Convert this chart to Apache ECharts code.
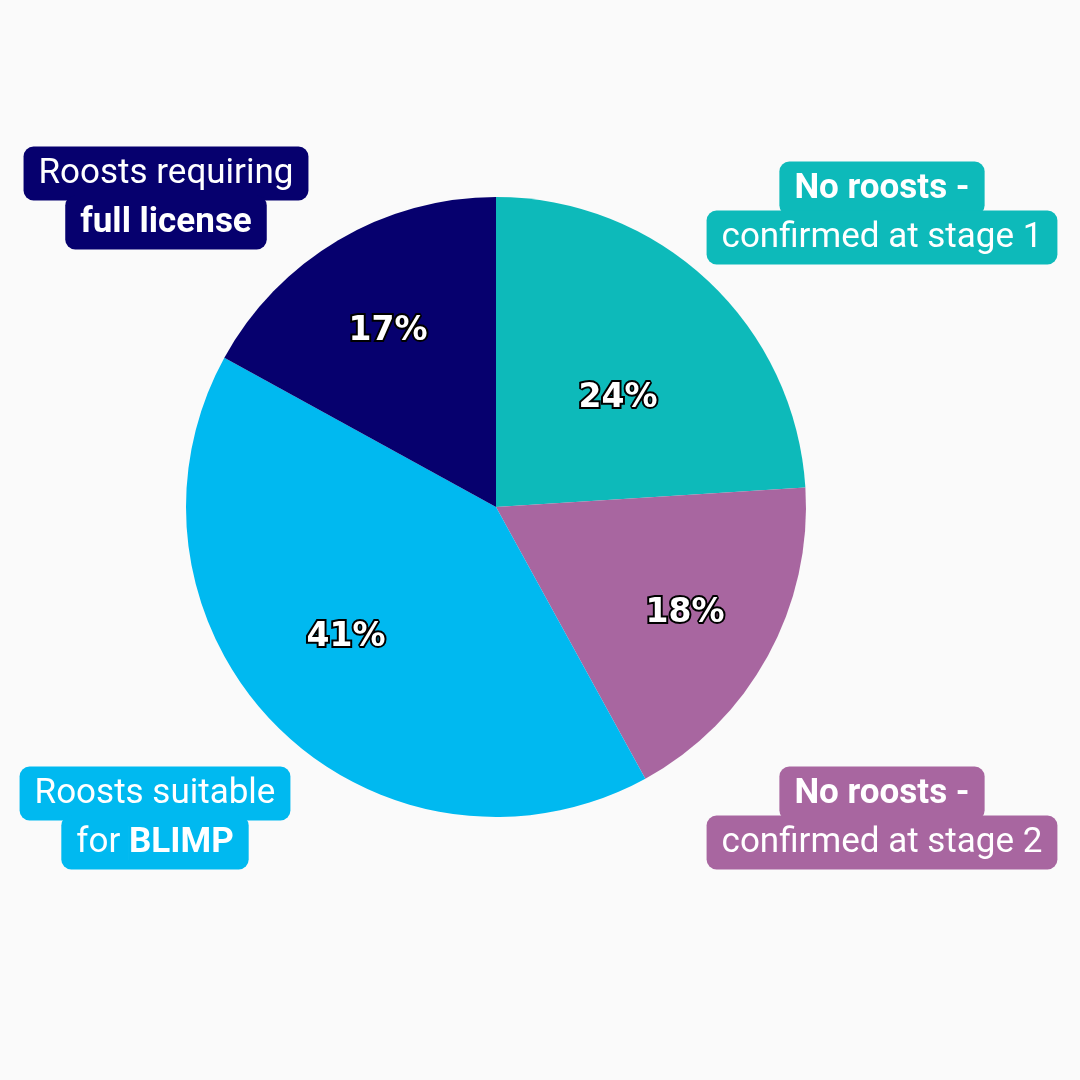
<!DOCTYPE html>
<html>
<head>
<meta charset="utf-8">
<script src="https://cdn.jsdelivr.net/npm/echarts@6/dist/echarts.min.js"></script>
<style>
  html, body { margin: 0; padding: 0; background: #fafafa; }
  #chart { width: 1080px; height: 1080px; }
</style>
</head>
<body>
<div id="chart"></div>
<script>
var categories = [
  'No roosts - confirmed at stage 1',
  'No roosts - confirmed at stage 2',
  'Roosts suitable for BLIMP',
  'Roosts requiring full license'
];
var values = [24, 18, 41, 17];
var colors = ['#0dbaba', '#a866a0', '#00b9f0', '#06006e'];

// label text per slice, rich-text markup
var labelText = [
  '{b0|No roosts -}\n{r0|confirmed at stage 1}',
  '{b1|No roosts -}\n{r1|confirmed at stage 2}',
  '{r2|Roosts suitable}\n{l2|for }{e2|BLIMP}',
  '{r3|Roosts requiring}\n{b3|full license}'
];

// layout only: where the labels sit
var pctPos = [[618, 398], [685, 613], [346, 637], [388, 331]];
var namePos = [[882, 213], [882, 818], [155, 818], [166, 198]];

(function() {
  var chart = echarts.init(document.getElementById('chart'), null, { renderer: 'canvas' });

  var rich = {};
  colors.forEach(function(c, i) {
    var base = { color: '#fff', fontFamily: 'Roboto', fontSize: 35, lineHeight: 49, backgroundColor: c };
    rich['r' + i] = Object.assign({}, base, { padding: [10, 15, 9, 15], borderRadius: 10 });
    rich['b' + i] = Object.assign({}, base, { fontWeight: 'bold', padding: [10, 15, 9, 15], borderRadius: 10 });
    rich['l' + i] = Object.assign({}, base, { padding: [10, 0, 9, 15], borderRadius: [10, 0, 0, 10] });
    rich['e' + i] = Object.assign({}, base, { fontWeight: 'bold', padding: [10, 15, 9, 0], borderRadius: [0, 10, 10, 0] });
  });

  var pieData = values.map(function(v, i) {
    return { name: categories[i], value: v, itemStyle: { color: colors[i] } };
  });

  chart.setOption({
    animation: false,
    backgroundColor: '#fafafa',
    series: [{
      type: 'pie',
      center: [496, 507],
      radius: 310,
      startAngle: 90,
      clockwise: true,
      silent: true,
      data: pieData,
      label: {
        show: true,
        position: 'inside',
        formatter: '{c}%',
        color: '#fff',
        fontFamily: 'DejaVu Sans',
        fontWeight: 'bold',
        fontSize: 33,
        textBorderColor: '#000',
        textBorderWidth: 4
      },
      labelLine: { show: false },
      labelLayout: function(p) {
        return { x: pctPos[p.dataIndex][0], y: pctPos[p.dataIndex][1], align: 'center', verticalAlign: 'middle' };
      }
    }, {
      type: 'pie',
      center: [496, 507],
      radius: 310,
      startAngle: 90,
      silent: true,
      avoidLabelOverlap: false,
      data: values.map(function(v, i) {
        return { name: categories[i], value: v, itemStyle: { color: 'rgba(0,0,0,0)' } };
      }),
      label: {
        show: true,
        position: 'outside',
        align: 'center',
        formatter: function(p) { return labelText[p.dataIndex]; },
        rich: rich
      },
      labelLine: { show: false },
      labelLayout: function(p) {
        return { x: namePos[p.dataIndex][0], y: namePos[p.dataIndex][1], align: 'center', verticalAlign: 'middle' };
      }
    }]
  });
  window.addEventListener('resize', function() { chart.resize(); });
})();
</script>
</body>
</html>
